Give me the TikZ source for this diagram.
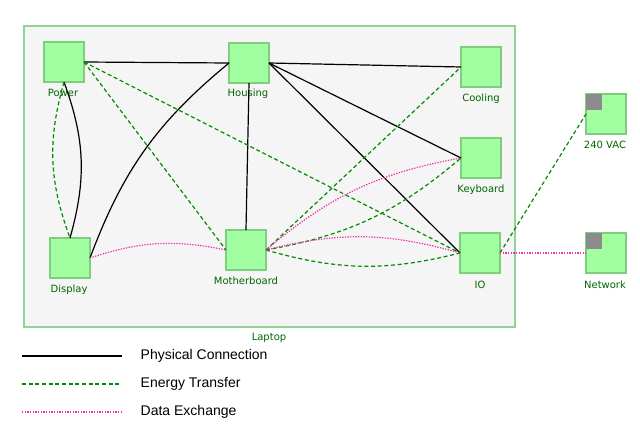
\documentclass[tikz,border=0pt]{standalone}
\usepackage{fontspec}
\setmainfont{DejaVu Sans}
\newfontfamily\legfont{Liberation Sans}
\begin{document}
\begin{tikzpicture}[x=0.75pt,y=-0.75pt,
  box/.style={draw=green!45!gray!70,fill=green!30!white!90!green,line width=0.8pt,minimum size=30pt,inner sep=0pt,outer sep=0pt},
  lbl/.style={text=green!40!black,font=\fontsize{7.5}{9}\selectfont},
  phys/.style={black,line width=0.9pt},
  energy/.style={green!55!black,dashed,line width=0.9pt,dash pattern=on 3pt off 2pt},
  data/.style={magenta!80,line width=0.9pt,dash pattern=on 1pt off 1pt}]
\useasboundingbox (0,0) rectangle (640,439);
\node[draw=green!40!gray!60,fill=gray!8,line width=0.8pt,minimum width=368.25pt,minimum height=225.75pt,inner sep=0pt] (laptop) at (269.5,176.5) {};
\node[lbl] (laptoplbl) at (269,338) {Laptop};
\node[box] (power) at (64,62) {};
\node[box] (housing) at (249,63) {};
\node[box] (cooling) at (481,67) {};
\node[box] (keyboard) at (481,158) {};
\node[box] (display) at (70,258) {};
\node[box] (mb) at (246,250) {};
\node[box] (io) at (480,253) {};
\node[box] (vac) at (606,114) {};
\node[box] (net) at (606,253) {};
\fill[gray!90] (vac.north west) rectangle ++(16,16);
\fill[gray!90] (net.north west) rectangle ++(16,16);
\node[lbl] at (63,93) {Power};
\node[lbl] at (248,94) {Housing};
\node[lbl] at (481,99) {Cooling};
\node[lbl] at (481,190) {Keyboard};
\node[lbl] at (69,290) {Display};
\node[lbl] at (246,281) {Motherboard};
\node[lbl] at (480,285) {IO};
\node[lbl] at (605,145) {240 VAC};
\node[lbl] at (605,285) {Network};
% physical
\draw[phys] (power.east) -- (housing.west);
\draw[phys] (housing.east) -- (cooling.west);
\draw[phys] (housing.east) -- (keyboard.west);
\draw[phys] (housing.east) -- (io.west);
\draw[phys] (housing.south) -- (mb.north);
\draw[phys] (housing.west) to[bend right=15] (display.east);
\draw[phys] (power.south) to[bend left=18] (display.north);
% energy
\draw[energy] (power.south) to[bend right=18] (display.north);
\draw[energy] (power.east) -- (mb.west);
\draw[energy] (power.east) -- (io.west);
\draw[energy] (mb.east) -- (cooling.west);
\draw[energy] (mb.east) to[bend right=15] (keyboard.west);
\draw[energy] (mb.east) to[bend right=15] (io.west);
\draw[energy] (io.east) -- (vac.west);
% data
\draw[data] (display.east) to[bend left=15] (mb.west);
\draw[data] (mb.east) to[bend left=15] (keyboard.west);
\draw[data] (mb.east) to[bend left=15] (io.west);
\draw[data] (io.east) -- (net.west);
% legend
\coordinate (l1a) at (22,356); \coordinate (l1b) at (122,356);
\coordinate (l2a) at (22,384); \coordinate (l2b) at (122,384);
\coordinate (l3a) at (22,412); \coordinate (l3b) at (122,412);
\draw[phys] (l1a) -- (l1b);
\draw[energy] (l2a) -- (l2b);
\draw[data] (l3a) -- (l3b);
\node[anchor=west,font=\legfont\fontsize{10.5}{12}\selectfont] (t1) at (136,356) {Physical Connection};
\node[anchor=west,font=\legfont\fontsize{10.5}{12}\selectfont] (t2) at (136,384) {Energy Transfer};
\node[anchor=west,font=\legfont\fontsize{10.5}{12}\selectfont] (t3) at (136,412) {Data Exchange};
\end{tikzpicture}
\end{document}
